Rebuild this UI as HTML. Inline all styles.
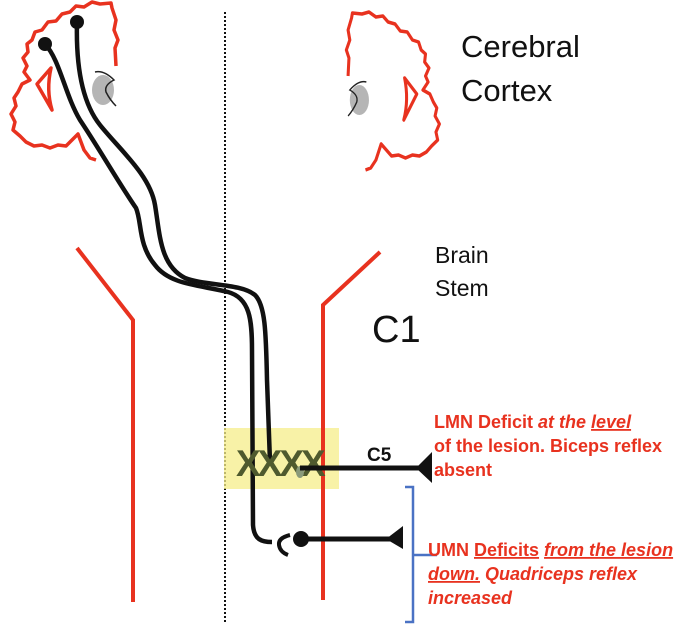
<!DOCTYPE html>
<html><head><meta charset="utf-8"><style>
html,body{margin:0;padding:0;background:#fff;}
svg{display:block;}
text{font-family:"Liberation Sans",sans-serif;}
.r{fill:#e8321f;font-weight:bold;font-size:18px;}
</style></head><body>
<svg width="685" height="625" viewBox="0 0 685 625" xmlns="http://www.w3.org/2000/svg">
<defs>
<g id="brain">
<path d="M116,66 L115,48 L118,40 L114,30 L116,20 L112,8 L111,3 L100,4 L92,2 L84,7 L76,6 L70,12 L62,14 L56,21 L48,22 L42,30 L35,32 L32,40 L27,44 L28,52 L23,58 L27,66 L24,72 L30,80 L22,84 L18,92 L14,98 L16,106 L11,114 L15,122 L13,130 L20,136 L26,142 L34,146 L42,145 L50,148 L58,145 L66,146 L72,140 L78,134 L84,150 L90,158 L96,160" fill="none" stroke="#e8321f" stroke-width="3.5" stroke-linejoin="round"/>
<path d="M51,68 L37,84 L52,110 Q46,90 51,68 Z" fill="none" stroke="#e8321f" stroke-width="3.5" stroke-linejoin="round"/>
<ellipse cx="103" cy="90" rx="11" ry="15" fill="#b5b5b5"/>
<path d="M95,72 Q104,70 114,80 Q104,85 106,92 Q110,100 116,106" fill="none" stroke="#222" stroke-width="1.5"/>
</g>
</defs>
<use href="#brain"/>
<g transform="translate(449,10) scale(-0.87,1)"><use href="#brain"/></g>
<line x1="225" y1="12" x2="225" y2="622" stroke="#111" stroke-width="2" stroke-dasharray="2,2"/>
<rect x="224" y="428" width="115" height="61" fill="#f5ee8a" opacity="0.75"/>
<polyline points="77,248 133,320 133,602" fill="none" stroke="#e8321f" stroke-width="4"/>
<polyline points="380,252 323,305 323,600" fill="none" stroke="#e8321f" stroke-width="4"/>
<path d="M45,44 C60,60 65,95 80,120 C100,150 120,185 136,208 C142,222 138,245 155,265 C170,285 200,285 228,292 C250,298 252,320 252,350 L253,525 C254,540 262,542 272,542" fill="none" stroke="#111" stroke-width="4.5"/>
<path d="M77,22 C76,60 80,100 100,125 C120,150 150,175 155,205 C160,235 160,265 185,278 C205,286 240,283 255,295 C265,305 266,330 267,380 L270,462" fill="none" stroke="#111" stroke-width="4.5"/>
<circle cx="45" cy="44" r="7" fill="#111"/>
<circle cx="77" cy="22" r="7" fill="#111"/>
<text x="236" y="476" font-size="37" font-weight="bold" fill="#4f5a2e" letter-spacing="-3">XXXX</text>
<ellipse cx="300" cy="472" rx="4" ry="6" fill="#8a9a7a"/>
<line x1="300" y1="468" x2="422" y2="468" stroke="#111" stroke-width="5"/>
<polygon points="432,452 432,483 416,468" fill="#111"/>
<text x="367" y="461" font-size="19" font-weight="bold" fill="#111">C5</text>
<path d="M290,535 Q278,538 279,545 Q280,552 288,555" fill="none" stroke="#111" stroke-width="4"/>
<circle cx="301" cy="539" r="8" fill="#111"/>
<line x1="301" y1="539" x2="395" y2="539" stroke="#111" stroke-width="5"/>
<polygon points="403,526 403,549 386,539" fill="#111"/>
<path d="M405,487 L413,487 L413,622 L405,622 M413,555 L437,555" fill="none" stroke="#4a72c4" stroke-width="2.5"/>
<text x="461" y="57" font-size="31" fill="#111">Cerebral</text>
<text x="461" y="101" font-size="31" fill="#111">Cortex</text>
<text x="435" y="263" font-size="23" fill="#111">Brain</text>
<text x="435" y="296" font-size="23" fill="#111">Stem</text>
<text x="372" y="342" font-size="38" fill="#111">C1</text>
<text class="r" x="434" y="428">LMN Deficit <tspan font-style="italic">at the <tspan text-decoration="underline">level</tspan></tspan></text>
<text class="r" x="434" y="452">of the lesion. Biceps reflex</text>
<text class="r" x="434" y="476">absent</text>
<text class="r" x="428" y="556">UMN <tspan text-decoration="underline">Deficits</tspan> <tspan font-style="italic" text-decoration="underline">from the lesion</tspan></text>
<text class="r" x="428" y="580" font-style="italic"><tspan text-decoration="underline">down.</tspan> Quadriceps reflex</text>
<text class="r" x="428" y="604" font-style="italic">increased</text>
</svg>
</body></html>
